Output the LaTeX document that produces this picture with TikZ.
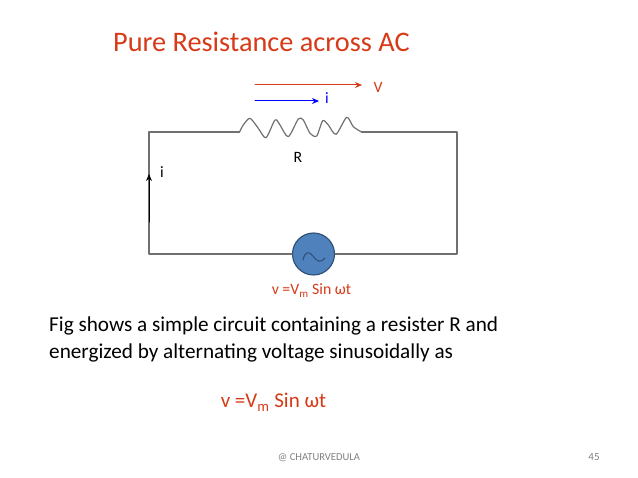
\documentclass[tikz,border=0pt]{standalone}
\usepackage{fontspec}
\setmainfont{Carlito}
\usetikzlibrary{arrows.meta}
\definecolor{slidered}{HTML}{D63A17}
\definecolor{wiregray}{HTML}{707070}
\definecolor{srcblue}{HTML}{4F81BD}
\definecolor{srcedge}{HTML}{2C4D75}
\tikzset{
  wire/.style={draw=wiregray,line width=1.2pt},
  lbl/.style={inner sep=0pt,anchor=base},
  redlbl/.style={lbl,text=slidered},
  flow/.style={-{Stealth[length=7pt,width=6pt]},line width=1pt},
}
\begin{document}
\begin{tikzpicture}[x=1pt,y=-1pt,line join=round,line cap=round]
    \useasboundingbox (0,0) rectangle (638,478);
    % circuit corners
    \coordinate (tl) at (149,132);
    \coordinate (tr) at (457,132);
    \coordinate (br) at (457,254);
    \coordinate (bl) at (149,254);
    \coordinate (rl) at (239.5,132);
    \coordinate (rr) at (361.5,132);
    \node[circle,draw=srcedge,fill=srcblue,line width=1.1pt,minimum size=42pt,inner sep=0pt] (src) at (313.5,254) {};
    \draw[wire] (rl) -- (tl) -- (bl) -- (src);
    \draw[wire] (rr) -- (tr) -- (br) -- (src);
    % resistor
    \draw[wire,smooth,tension=.45] plot coordinates {(rl) (243.3,125) (250,118.3) (258.3,128.3) (266,137.7) (275,120) (280,125) (288.3,136.7) (298.3,119) (303.3,120) (310,133.3) (316.7,136) (322.7,120.7) (328.3,125) (336,134.3) (346.7,117.3) (353.3,126.7) (rr)};
    % ac symbol
    \draw[srcedge,line width=1pt] (303,260) .. controls (305,251) and (309,251) .. (313,256) .. controls (317,262) and (321,263) .. (325,258);
    % arrows
    \coordinate (va) at (255,85);
    \coordinate (vb) at (362,85);
    \coordinate (ia) at (255,101);
    \coordinate (ib) at (319,101);
    \coordinate (ja) at (149,222);
    \coordinate (jb) at (149,174);
    \draw[flow,slidered] (va) -- (vb);
    \draw[flow,blue] (ia) -- (ib);
    \draw[flow,black] (ja) -- (jb);
    % labels
    \node[redlbl,font=\fontsize{28.3}{32}\selectfont,anchor=base west] (title) at (113,52) {Pure Resistance across AC};
    \node[redlbl,font=\fontsize{15.8}{19}\selectfont] (vlbl) at (378,93) {V};
    \node[lbl,text=blue,font=\fontsize{15.8}{19}\selectfont] (ilbl) at (327,104) {i};
    \node[lbl,font=\fontsize{15.8}{19}\selectfont] (rlbl) at (298,163) {R};
    \node[lbl,font=\fontsize{15.8}{19}\selectfont] (jlbl) at (162,178) {i};
    \node[redlbl,font=\fontsize{15.8}{19}\selectfont] (eqa) at (311.5,295) {v =V\textsubscript{m} Sin ωt};
    \node[lbl,font=\fontsize{21.2}{25}\selectfont,anchor=base west] (bodya) at (49,332) {Fig shows a simple circuit containing a resister R and};
    \node[lbl,font=\fontsize{21.2}{25}\selectfont,anchor=base west] (bodyb) at (49,359) {energized by alternating voltage sinusoidally as};
    \node[redlbl,font=\fontsize{21}{25}\selectfont] (eqb) at (273.5,408) {v =V\textsubscript{m} Sin ωt};
    \node[lbl,text=gray,font=\fontsize{10.6}{13}\selectfont] (foot) at (319,461) {@ CHATURVEDULA};
    \node[lbl,text=gray,font=\fontsize{11}{13}\selectfont] (num) at (594,461) {45};
\end{tikzpicture}
\end{document}
